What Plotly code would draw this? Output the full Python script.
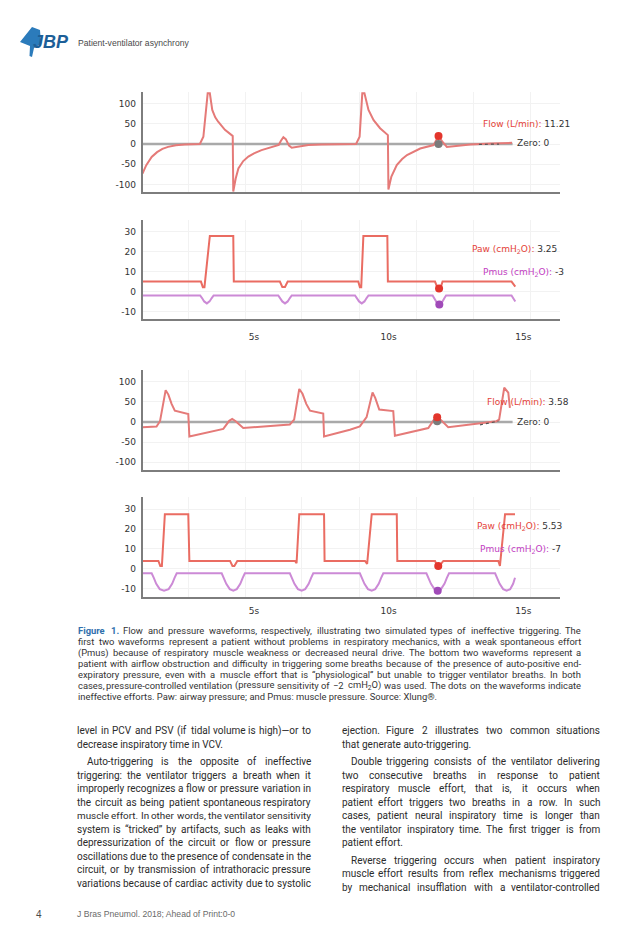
import re

import plotly.graph_objects as go
from plotly.subplots import make_subplots

# ---- waveform data (time in s) ----
# panel 1: flow, weak effort
flow1_t = [0.86, 1.0, 1.2, 1.4, 1.6, 1.81, 2.1, 2.43, 2.99, 3.12, 3.28, 3.36, 3.45, 3.56, 3.67, 3.92, 4.17, 4.21, 4.23, 4.32,
           4.42, 4.6, 4.79, 5.0, 5.28, 5.5, 5.78, 5.92, 6.0, 6.09, 6.18, 6.3, 6.4, 6.7, 7.02, 7.5, 8.0, 8.79, 8.92, 9.02,
           9.1, 9.25, 9.44, 9.68, 9.97, 9.99, 10.1, 10.3, 10.5, 10.68, 11.17, 11.67, 11.85, 12.0, 12.16, 12.5, 13.03, 13.8, 14.58]
flow1_v = [-73, -52, -32, -20, -12, -7, -3, -1, 0, 18, 125, 125, 84, 66, 55, 35, 22, 20, -117, -85,
           -60, -42, -31, -23, -15, -10, -5, -2, 8, 17, 12, -4, -9, -5, -2.5, -1, 0, 0, 18, 125,
           125, 84, 59, 39, 22, -112, -80, -52, -37, -27, -11, -2.5, 20, 5, -7, -4, -1, 1, 3]

# panel 2: pressures, weak effort
paw1_t = [0.86, 3.03, 3.1, 3.16, 3.36, 4.23, 4.25, 5.96, 6.05, 6.15, 6.25, 8.87, 8.93, 8.98, 9.06, 9.95, 9.97,
          11.72, 11.82, 11.92, 12.0, 14.56, 14.7]
paw1_v = [5, 5, 2.2, 2.2, 28, 28, 5, 5, 2.3, 2.3, 5, 5, 2.2, 2.2, 28, 28, 5, 5, 1.5, 1.5, 5, 5, 2.5]
pmus1_t = [0.86, 3.0, 3.07, 3.15, 3.25, 3.35, 3.43, 3.5, 5.9, 5.97, 6.05, 6.15, 6.25, 6.33, 6.4,
           8.75, 8.82, 8.9, 9.0, 9.1, 9.18, 9.25, 11.63, 11.7, 11.78, 11.88, 11.98, 12.06, 12.13, 14.56, 14.7]
pmus1_v = [-2, -2, -3.3, -5, -6, -5, -3.3, -2, -2, -3.3, -5, -6, -5, -3.3, -2,
           -2, -3.3, -5, -6, -5, -3.3, -2, -2, -3.5, -5.4, -6.5, -5.4, -3.5, -2, -2, -5]

# panel 3: flow, auto-PEEP
flow2_t = [0.86, 1.38, 1.51, 1.72, 1.82, 1.94, 2.06, 2.56, 2.6, 3.86, 4.08, 4.19, 4.32, 4.6, 6.33, 6.49, 6.68, 6.8, 6.94, 7.08,
           7.57, 7.6, 8.56, 8.93, 9.18, 9.4, 9.5, 9.65, 10.17, 10.23, 11.47, 11.68, 11.8, 11.93, 12.21, 14.0, 14.1, 14.29, 14.44, 14.5]
flow2_v = [-13, -11, 2, 79, 68, 45, 28, 20, -36, -17, 3, 7.5, 2, -15, -6, 6, 82, 70, 45, 28,
           21, -36, -19, -11, 12, 73, 60, 31, 27, -34, -15, 6, 14, 5, -13, 2, 6, 85, 73, 35]

# panel 4: pressures, auto-PEEP
paw2_t = [0.86, 1.45, 1.52, 1.58, 1.69, 2.56, 2.6, 4.11, 4.2, 4.27, 4.38, 6.52, 6.58, 6.68, 7.6, 7.62, 9.12, 9.2, 9.37,
          10.3, 10.32, 11.72, 11.8, 11.88, 12.03, 14.07, 14.13, 14.32, 14.69]
paw2_v = [4, 4, 1.5, 1.5, 27.5, 27.5, 4, 4, 1.5, 1.5, 4, 4, 2.8, 27.5, 27.5, 4, 4, 2.5, 27.5,
          27.5, 4, 4, 1.5, 1.5, 4, 4, 1.5, 27.5, 27.5]
pmus2_t = [0.86, 1.2, 1.28, 1.37, 1.5, 1.66, 1.83, 1.96, 2.05, 2.13,
           3.8, 3.88, 3.97, 4.1, 4.23, 4.36, 4.49, 4.58, 4.66,
           6.33, 6.41, 6.5, 6.63, 6.77, 6.9, 7.03, 7.12, 7.2,
           8.93, 9.01, 9.1, 9.23, 9.37, 9.5, 9.63, 9.72, 9.8,
           11.4, 11.48, 11.57, 11.7, 11.82, 11.94, 12.07, 12.16, 12.24,
           13.95, 14.03, 14.12, 14.25, 14.38, 14.51, 14.62, 14.69]
pmus2_v = [-2.2, -2.2, -4.5, -7.5, -10.2, -11, -10.2, -7.5, -4.5, -2.2,
           -2.2, -4.5, -7.5, -10.2, -11, -10.2, -7.5, -4.5, -2.2,
           -2.2, -4.5, -7.5, -10.2, -11, -10.2, -7.5, -4.5, -2.2,
           -2.2, -4.5, -7.5, -10.2, -11, -10.2, -7.5, -4.5, -2.2,
           -2.2, -4.5, -7.5, -10.2, -11, -10.2, -7.5, -4.5, -2.2,
           -2.2, -4.5, -7.5, -10.2, -11, -10.2, -7.5, -4.5]

zero_t = [0.86, 14.6]
zero_v = [0, 0]
cursor1_t = [13.35, 14.1]
cursor1_v = [-1, 0]
cursor2_t = [13.39, 14.07]
cursor2_v = [-7, 2]

# ineffective-effort dots: (time, value)
flow1_dot = (11.85, 20)
flow1_zero_dot = (11.85, 0)
paw1_dot = (11.87, 1.5)
pmus1_dot = (11.88, -6.5)
flow2_dot = (11.8, 12)
flow2_zero_dot = (11.8, 2)
paw2_dot = (11.84, 1.5)
pmus2_dot = (11.82, -11)

flow_ticks = [100, 50, 0, -50, -100]
flow_tick_labels = ["100", "50", "0", "-50", "-100"]
pressure_ticks = [30, 20, 10, 0, -10]
pressure_tick_labels = ["30", "20", "10", "0", "-10"]
time_ticks = [5, 10, 15]
time_labels = ["5s", "10s", "15s"]
grid_t = [2.55, 4.67, 6.78, 8.9, 11.02, 13.14, 15.26]

readouts = [
    ("Flow (L/min):", "11.21", "Zero:", "0"),
    ("Paw (cmH<sub>2</sub>O):", "3.25", "Pmus (cmH<sub>2</sub>O):", "-3"),
    ("Flow (L/min):", "3.58", "Zero:", "0"),
    ("Paw (cmH<sub>2</sub>O):", "5.53", "Pmus (cmH<sub>2</sub>O):", "-7"),
]

caption_lines = [
    "Figure 1. Flow and pressure waveforms, respectively, illustrating two simulated types of ineffective triggering. The",
    "first two waveforms represent a patient without problems in respiratory mechanics, with a weak spontaneous effort",
    "(Pmus) because of respiratory muscle weakness or decreased neural drive. The bottom two waveforms represent a",
    "patient with airflow obstruction and difficulty in triggering some breaths because of the presence of auto-positive end-",
    "expiratory pressure, even with a muscle effort that is “physiological” but unable to trigger ventilator breaths. In both",
    "cases, pressure-controlled ventilation (pressure sensitivity of −2 cmH<sub>2</sub>O) was used. The dots on the waveforms indicate",
    "ineffective efforts. Paw: airway pressure; and Pmus: muscle pressure. Source: Xlung®.",
]

left_column = [
    ["level in PCV and PSV (if tidal volume is high)—or to",
     "decrease inspiratory time in VCV."],
    ["Auto-triggering is the opposite of ineffective",
     "triggering: the ventilator triggers a breath when it",
     "improperly recognizes a flow or pressure variation in",
     "the circuit as being patient spontaneous respiratory",
     "muscle effort. In other words, the ventilator sensitivity",
     "system is “tricked” by artifacts, such as leaks with",
     "depressurization of the circuit or flow or pressure",
     "oscillations due to the presence of condensate in the",
     "circuit, or by transmission of intrathoracic pressure",
     "variations because of cardiac activity due to systolic"],
]
left_continues = [False, True]
right_column = [
    ["ejection. Figure 2 illustrates two common situations",
     "that generate auto-triggering."],
    ["Double triggering consists of the ventilator delivering",
     "two consecutive breaths in response to patient",
     "respiratory muscle effort, that is, it occurs when",
     "patient effort triggers two breaths in a row. In such",
     "cases, patient neural inspiratory time is longer than",
     "the ventilator inspiratory time. The first trigger is from",
     "patient effort."],
    ["Reverse triggering occurs when patient inspiratory",
     "muscle effort results from reflex mechanisms triggered",
     "by mechanical insufflation with a ventilator-controlled"],
]
right_continues = [False, False, True]

# page is 638x939; the html body adds an 8px margin, so the figure is drawn 8px smaller
PAGE_W, PAGE_H = 638, 939
OFF = 8
W, H = PAGE_W - OFF, PAGE_H - OFF
FLOW_C = "#e57a78"
PAW_C = "#ea6c62"
PMUS_C = "#cc8ad6"
DOT_RED = "#e3362c"
DOT_PURPLE = "#a04ab8"
LABEL_RED = "#e43f38"
LABEL_PURPLE = "#c23ec2"
CHART_FONT = "DejaVu Sans, sans-serif"
BODY_FONT = "Roboto, sans-serif"
SANS = "Liberation Sans, Arial, sans-serif"

# approximate Roboto advance widths (1/2048 em), used to spread words for justified lines
ROBOTO_W = {
    " ": 507, "a": 1087, "b": 1120, "c": 1045, "d": 1126, "e": 1058, "f": 696, "g": 1120, "h": 1100,
    "i": 485, "j": 477, "k": 1012, "l": 485, "m": 1751, "n": 1103, "o": 1139, "p": 1120, "q": 1133,
    "r": 677, "s": 1031, "t": 654, "u": 1100, "v": 967, "w": 1503, "x": 994, "y": 947, "z": 994,
    "A": 1336, "B": 1275, "C": 1333, "D": 1343, "E": 1164, "F": 1132, "G": 1395, "H": 1460, "I": 557,
    "J": 1131, "K": 1283, "L": 1103, "M": 1787, "N": 1460, "O": 1408, "P": 1292, "Q": 1408, "R": 1260,
    "S": 1216, "T": 1222, "U": 1328, "V": 1303, "W": 1817, "X": 1284, "Y": 1230, "Z": 1226,
    ".": 527, ",": 393, ":": 484, ";": 434, "(": 684, ")": 696, "-": 553, "—": 1587, "−": 1150,
    "“": 700, "”": 700, "®": 1600, "/": 824,
}


def px(x):
    return (x - OFF) / W


def py(y):
    return 1 - (y - OFF) / H


def note(fig, x, y, text, size, color="#333333", family=CHART_FONT, xanchor="left"):
    fig.add_annotation(
        x=px(x), y=py(y), xref="paper", yref="paper", text=text, showarrow=False,
        xanchor=xanchor, yanchor="middle", borderpad=0, borderwidth=0,
        font=dict(size=size, color=color, family=family),
    )


def word_width(word, size, bold=False):
    plain = re.sub(r"<[^>]+>", "", word)
    w = sum(ROBOTO_W.get(ch, 1150) for ch in plain) / 2048 * size
    return w * 1.06 if bold else w


def text_line(fig, line, x_left, x_right, y, size, color, justify, bold_words=0, bold_color=None):
    words = line.split(" ")
    styled = []
    for k, w in enumerate(words):
        if k < bold_words:
            styled.append(f"<b><span style='color:{bold_color}'>{w}</span></b>")
        else:
            styled.append(w)
    if not justify or len(words) == 1:
        note(fig, x_left, y, " ".join(styled), size, color=color, family=BODY_FONT)
        return
    # shrink the line a little when its words would not keep a normal space between them
    natural = sum(word_width(w, size, k < bold_words) for k, w in enumerate(words))
    min_gap = 0.3 * size
    room = x_right - x_left - min_gap * (len(words) - 1)
    if natural > room:
        size = size * room / natural
    widths = [word_width(w, size, k < bold_words) for k, w in enumerate(words)]
    gap = (x_right - x_left - sum(widths)) / (len(words) - 1)
    x = x_left
    for k, (w, wd) in enumerate(zip(styled, widths)):
        if k == 0:
            note(fig, x_left, y, w, size, color=color, family=BODY_FONT, xanchor="left")
        elif k == len(words) - 1:
            note(fig, x_right, y, w, size, color=color, family=BODY_FONT, xanchor="right")
        else:
            note(fig, x + wd / 2, y, w, size, color=color, family=BODY_FONT, xanchor="center")
        x += wd + gap


fig = make_subplots(rows=4, cols=1)

line_traces = [
    (1, zero_t, zero_v, "#a9a9a9", 2.6),
    (1, flow1_t, flow1_v, FLOW_C, 2),
    (2, paw1_t, paw1_v, PAW_C, 2),
    (2, pmus1_t, pmus1_v, PMUS_C, 2),
    (3, zero_t, zero_v, "#a9a9a9", 2.6),
    (3, flow2_t, flow2_v, FLOW_C, 2),
    (4, paw2_t, paw2_v, PAW_C, 2),
    (4, pmus2_t, pmus2_v, PMUS_C, 2),
]
for row, t, v, color, width in line_traces:
    fig.add_trace(
        go.Scatter(x=t, y=v, mode="lines", line=dict(color=color, width=width),
                   showlegend=False, hoverinfo="skip"),
        row=row, col=1,
    )

for row, t, v in [(1, cursor1_t, cursor1_v), (3, cursor2_t, cursor2_v)]:
    fig.add_trace(
        go.Scatter(x=t, y=v, mode="lines", line=dict(color="#555555", width=1.2, dash="dot"),
                   showlegend=False, hoverinfo="skip"),
        row=row, col=1,
    )

dots = [
    (1, flow1_zero_dot, "#7b7b7b"), (1, flow1_dot, DOT_RED),
    (2, paw1_dot, DOT_RED), (2, pmus1_dot, DOT_PURPLE),
    (3, flow2_zero_dot, "#7b7b7b"), (3, flow2_dot, DOT_RED),
    (4, paw2_dot, DOT_RED), (4, pmus2_dot, DOT_PURPLE),
]
for row, (t, v), color in dots:
    fig.add_trace(
        go.Scatter(x=[t], y=[v], mode="markers", marker=dict(color=color, size=8), showlegend=False, hoverinfo="skip"),
        row=row, col=1,
    )

# panel placement (pixel rows measured on the page)
x_dom = [px(142.5), px(560)]
y_doms = [(91.7, 192.3), (220, 319.3), (370, 470), (497.3, 596.7)]
for i, (top, bottom) in enumerate(y_doms, start=1):
    is_flow = i in (1, 3)
    fig.update_xaxes(
        domain=x_dom, range=[0.86, 16.36], showline=True, linecolor="#7d7d7d", linewidth=1.6,
        showgrid=False, zeroline=False, showticklabels=not is_flow,
        tickvals=time_ticks, ticktext=time_labels,
        ticks="outside", ticklen=8 if i == 2 else 5, tickcolor="rgba(0,0,0,0)",
        tickfont=dict(size=9, color="#333333", family=CHART_FONT),
        minor=dict(tickvals=grid_t, showgrid=True, gridcolor="#f2f2f2", ticks=""),
        row=i, col=1,
    )
    fig.update_yaxes(
        domain=[py(bottom), py(top)],
        range=[-119, 129] if is_flow else [-14, 36],
        tickvals=flow_ticks if is_flow else pressure_ticks,
        ticktext=flow_tick_labels if is_flow else pressure_tick_labels,
        showline=True, linecolor="#7d7d7d", linewidth=1.6,
        showgrid=True, gridcolor="#f2f2f2", zeroline=False,
        ticks="outside", ticklen=3, tickcolor="rgba(0,0,0,0)",
        tickfont=dict(size=9, color="#333333", family=CHART_FONT),
        row=i, col=1,
    )

# live readouts next to each panel
readout_pos = [
    ((483.3, 124.3), (516.7, 143.3)),
    ((471.7, 250.0), (483.0, 272.7)),
    ((486.7, 402.3), (516.7, 422.3)),
    ((476.7, 526.7), (480.0, 549.3)),
]
for (name1, val1, name2, val2), ((x1, y1), (x2, y2)) in zip(readouts, readout_pos):
    color2 = LABEL_PURPLE if name2.startswith("Pmus") else "#333333"
    note(fig, x1, y1, f"<span style='color:{LABEL_RED}'>{name1}</span> {val1}", 9)
    note(fig, x2, y2, f"<span style='color:{color2}'>{name2}</span> {val2}", 9)

# header with journal logo
fig.add_shape(
    type="path", xref="paper", yref="paper",
    path="M {} {} L {} {} L {} {} L {} {} L {} {} L {} {} L {} {} L {} {} Z".format(
        px(20), py(42), px(32), py(27), px(40), py(30), px(41), py(44),
        px(34), py(48), px(32), py(57), px(29.5), py(56), px(30), py(46)),
    fillcolor="#2b7bbb", line=dict(width=0),
)
note(fig, 51, 42, "<b><i>JBP</i></b>", 18, color="#1d5f98", family=SANS, xanchor="center")
note(fig, 78, 43, "Patient-ventilator asynchrony", 8.6, color="#4a4a4a", family=SANS)

# figure caption (justified, last line ragged)
for k, line in enumerate(caption_lines):
    text_line(fig, line, 78.3, 581, 630.7 + k * 10.9, 9.4, "#333333",
              justify=k < len(caption_lines) - 1,
              bold_words=2 if k == 0 else 0, bold_color="#2f6fad")


# two-column body text
def add_column(fig, paragraphs, continues, x_left, x_right, indent):
    y = 730.7
    for p, lines in enumerate(paragraphs):
        if p > 0:
            y += 3.8
        for j, line in enumerate(lines):
            x = x_left + (indent if (p > 0 and j == 0) else 0)
            last = j == len(lines) - 1
            text_line(fig, line, x, x_right, y, 10, "#2b2b2b", justify=(not last) or continues[p])
            y += 13.55


add_column(fig, left_column, left_continues, 77.3, 311, 10)
add_column(fig, right_column, right_continues, 341.7, 600, 9)

# footer
note(fig, 39, 914, "4", 10, color="#4a4a4a", family=SANS, xanchor="center")
note(fig, 77.3, 914, "J Bras Pneumol. 2018; Ahead of Print:0-0", 8.6, color="#6a6a6a", family=SANS)

fig.update_layout(
    width=W, height=H,
    margin=dict(l=0, r=0, t=0, b=0),
    paper_bgcolor="#ffffff",
    plot_bgcolor="#ffffff",
    showlegend=False,
)

fig.write_html("out.html")
